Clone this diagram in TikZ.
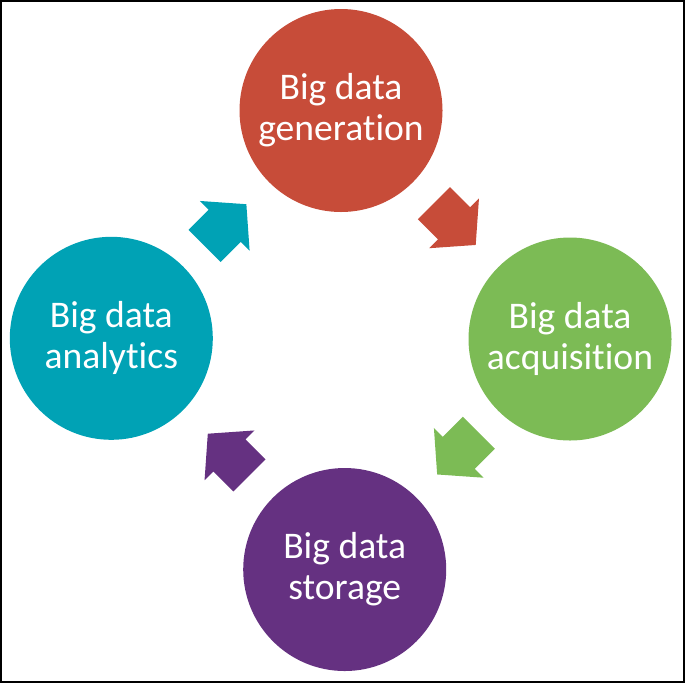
\documentclass[tikz,border=0pt]{standalone}
\usepackage{fontspec}
\setmainfont{Carlito}[Ligatures=NoCommon]
\usepackage{tikz}
\usetikzlibrary{shapes.arrows}
\usetikzlibrary{calc}
\usepackage{xcolor}
\definecolor{genred}{RGB}{199,76,57}
\definecolor{acqgreen}{RGB}{124,187,85}
\definecolor{stopurple}{RGB}{101,49,129}
\definecolor{anateal}{RGB}{0,162,181}

\begin{document}
\begin{tikzpicture}[stage/.style={circle,minimum size=2.03cm,inner sep=0pt,text=white,align=center,font=\fontsize{10.7}{11.7}\selectfont},
  flow/.style={single arrow,anchor=tip,minimum height=0.59cm,minimum width=0.69cm,inner xsep=0pt,inner ysep=0.22cm,single arrow head extend=0.125cm,single arrow tip angle=98}]
 \useasboundingbox (0,0) rectangle (6.85,6.83);
 \draw[line width=0.7pt] (0.01,0.01) rectangle (6.84,6.82);

 \node[stage,fill=genred] (gen) at (3.41,5.725) {Big data\\generation};
 \node[stage,fill=acqgreen] (acq) at (5.70,3.44) {Big data\\acquisition};
 \node[stage,fill=stopurple] (sto) at (3.447,1.135) {Big data\\storage};
 \node[stage,fill=anateal] (ana) at (1.113,3.447) {Big data\\analytics};

 % arrows: tip half a length beyond the middle of each pair
 \node[flow,fill=anateal,rotate=45] (anagen) at ($(ana)!0.5!(gen)+(45:0.295)$) {};
 \node[flow,fill=genred,rotate=-45] (genacq) at ($(gen)!0.5!(acq)+(-45:0.295)$) {};
 \node[flow,fill=acqgreen,rotate=-135] (acqsto) at ($(acq)!0.5!(sto)+(-135:0.295)$) {};
 \node[flow,fill=stopurple,rotate=135] (stoana) at ($(sto)!0.5!(ana)+(135:0.295)$) {};
\end{tikzpicture}
\end{document}
